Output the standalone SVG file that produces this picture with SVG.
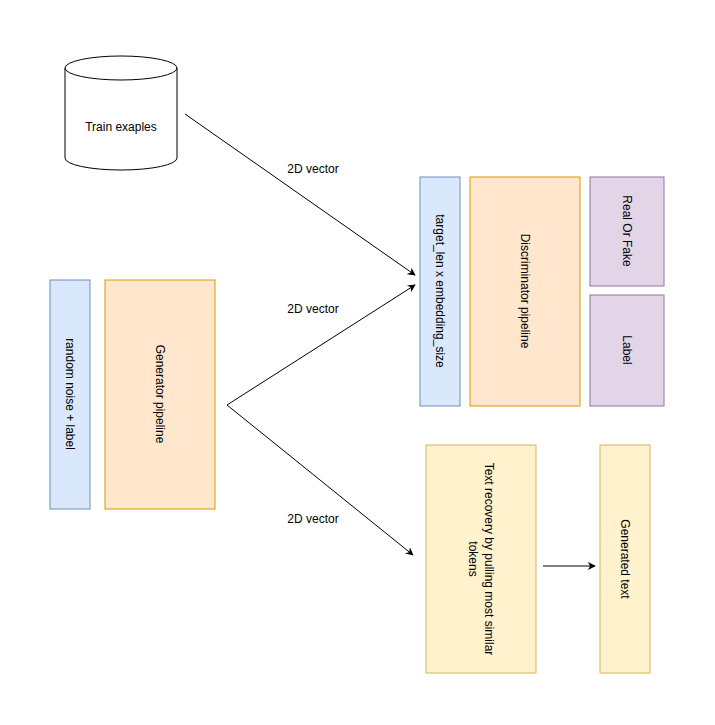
<svg xmlns="http://www.w3.org/2000/svg" width="715" height="725" viewBox="0 0 715 725">
<style>
text{font-family:"Liberation Sans",Arial,sans-serif;font-size:12px;fill:#000;text-anchor:middle;dominant-baseline:central}
.b{fill:#dae8fc;stroke:#6c8ebf}
.o{fill:#ffe6cc;stroke:#d79b00}
.p{fill:#e1d5e7;stroke:#9673a6}
.y{fill:#fff2cc;stroke:#d6b656}
.l{stroke:#000;fill:none;stroke-width:1;marker-end:url(#a)}
</style>
<defs><marker id="a" viewBox="0 0 10 10" refX="9" refY="5" markerWidth="8" markerHeight="8" orient="auto" markerUnits="userSpaceOnUse"><path d="M0,0 L10,5 L0,10 L3,5 Z" fill="#000"/></marker></defs>
<rect width="715" height="725" fill="#fff"/>
<g id="train"><path d="M65,68 A56,12 0 0 1 177,68 L177,158 A56,12 0 0 1 65,158 Z" fill="#fff" stroke="#000"/><path d="M65,68 A56,12 0 0 0 177,68" fill="none" stroke="#000"/><text x="121" y="127">Train exaples</text></g>
<g id="target"><rect class="b" x="420" y="177" width="40" height="229"/><text transform="translate(440,291) rotate(90)">target_len x embedding_size</text></g>
<g id="disc"><rect class="o" x="470" y="177" width="110" height="229"/><text transform="translate(525,291) rotate(90)">Discriminator pipeline</text></g>
<g id="rof"><rect class="p" x="590" y="177" width="74" height="109"/><text transform="translate(627,231) rotate(90)">Real Or Fake</text></g>
<g id="label"><rect class="p" x="590" y="295" width="74" height="111"/><text transform="translate(627,350) rotate(90)">Label</text></g>
<g id="noise"><rect class="b" x="50" y="280" width="40" height="229"/><text transform="translate(70,394) rotate(90)">random noise + label</text></g>
<g id="gen"><rect class="o" x="105" y="280" width="110" height="229"/><text transform="translate(160,394) rotate(90)">Generator pipeline</text></g>
<g id="recovery"><rect class="y" x="426" y="445" width="110" height="228"/><text transform="translate(481,559) rotate(90)"><tspan x="0" y="-8">Text recovery by pulling most similar</tspan><tspan x="0" y="8">tokens</tspan></text></g>
<g id="gentext"><rect class="y" x="600" y="445" width="50" height="228"/><text transform="translate(625,559) rotate(90)">Generated text</text></g>
<g id="connectors">
<line class="l" x1="185" y1="114" x2="415" y2="275"/>
<path class="l" d="M227,405 L415,285"/>
<path class="l" d="M227,405 L413,555"/>
<line class="l" x1="543" y1="566" x2="595" y2="566"/>
<text x="313" y="169">2D vector</text>
<text x="313" y="309">2D vector</text>
<text x="313" y="519">2D vector</text>
</g>
</svg>
